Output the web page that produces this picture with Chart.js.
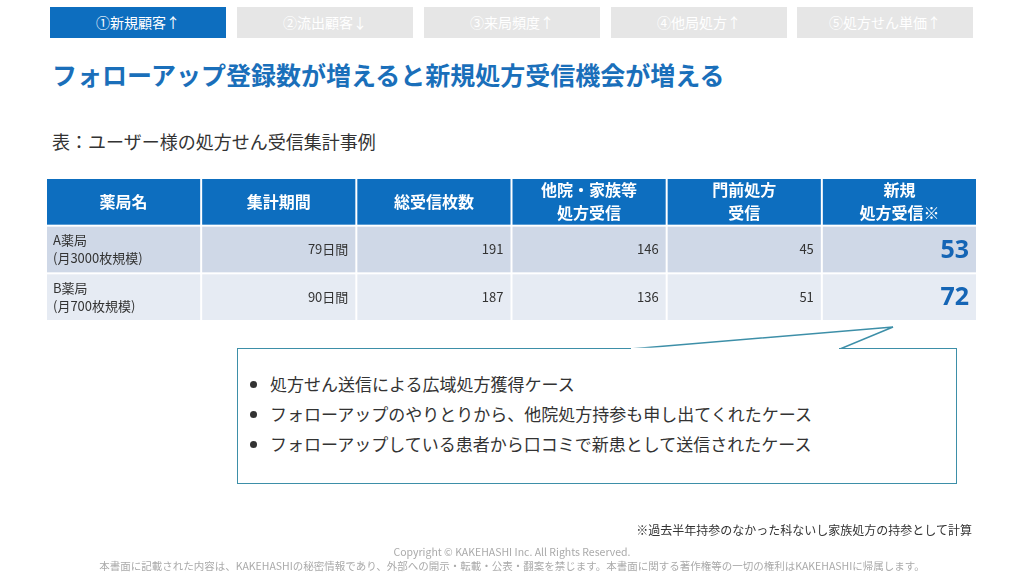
<!DOCTYPE html>
<html><head><meta charset="utf-8">
<script src="https://cdn.jsdelivr.net/npm/chart.js@4"></script>
<style>
body{margin:0;width:1024px;height:576px;background:#fff;font-family:"Noto Sans CJK JP","Noto Sans",sans-serif;position:relative;overflow:hidden;color:#333}
.tab{position:absolute;top:7px;height:31px;width:176px;background:#e6e6e6;color:#fff;font-size:14px;text-align:center;line-height:31px}
.tab.on{background:#0d6ebf}
#title{position:absolute;left:52px;top:56px;font-size:25px;font-weight:bold;color:#1a6fba;letter-spacing:0px}
#sub{position:absolute;left:52px;top:128px;font-size:18px;color:#333}
#wrap{position:absolute;left:46px;top:178px;width:931px;height:143px}
#box{position:absolute;left:237px;top:348px;width:718px;height:134px;border:1.5px solid #3d8fa8;background:#fff}
#box ul{margin:20px 0 0 0;padding-left:32px;font-size:17px;line-height:30px;color:#333}
#note{position:absolute;right:52px;top:521px;font-size:12px;color:#333}
.foot{position:absolute;left:0;width:1024px;text-align:center;font-size:10.5px;color:#aaa}
</style></head><body>
<div class="tab on" style="left:50px">①新規顧客↑</div>
<div class="tab" style="left:237px">②流出顧客↓</div>
<div class="tab" style="left:424px">③来局頻度↑</div>
<div class="tab" style="left:611px">④他局処方↑</div>
<div class="tab" style="left:797px">⑤処方せん単価↑</div>
<div id="title">フォローアップ登録数が増えると新規処方受信機会が増える</div>
<div id="sub">表：ユーザー様の処方せん受信集計事例</div>
<div id="wrap"><canvas id="tbl"></canvas></div>
<svg style="position:absolute;left:0;top:0" width="1024" height="576">
<polygon points="630,349 893,327 840,349" fill="#fff" stroke="#3d8fa8" stroke-width="1.5"/>
</svg>
<div id="box"><ul>
<li>処方せん送信による広域処方獲得ケース</li>
<li>フォローアップのやりとりから、他院処方持参も申し出てくれたケース</li>
<li>フォローアップしている患者から口コミで新患として送信されたケース</li>
</ul></div>
<svg style="position:absolute;left:0;top:0" width="1024" height="576"><line x1="631" y1="349" x2="839" y2="349" stroke="#fff" stroke-width="2.5"/></svg>
<div id="note">※過去半年持参のなかった科ないし家族処方の持参として計算</div>
<div class="foot" style="top:544px">Copyright © KAKEHASHI Inc. All Rights Reserved.</div>
<div class="foot" style="top:558px">本書面に記載された内容は、KAKEHASHIの秘密情報であり、外部への開示・転載・公表・翻案を禁じます。本書面に関する著作権等の一切の権利はKAKEHASHIに帰属します。</div>
<script>
// table data
const headers = ['薬局名', '集計期間', '総受信枚数', '他院・家族等\n処方受信', '門前処方\n受信', '新規\n処方受信※'];
const pharmacies = ['A薬局\n(月3000枚規模)', 'B薬局\n(月700枚規模)'];
const periods = ['79日間', '90日間'];
const totalReceived = [191, 187];
const otherClinic = [146, 136];
const frontClinic = [45, 51];
const newReceived = [53, 72];
const rowLabels = ['header', 'A', 'B'];

const rows = pharmacies.map((p, i) => [p, periods[i], totalReceived[i], otherClinic[i], frontClinic[i], newReceived[i]]);

const tablePlugin = {
    id: 'table',
    afterDraw(chart) {
        const ctx = chart.ctx;
        const xs = chart.scales.x, ys = chart.scales.y;
        const cw = xs.width / headers.length, rh = ys.height / rowLabels.length;
        rowLabels.forEach((r, ri) => {
            const cy = ys.getPixelForValue(ri);
            headers.forEach((h, ci) => {
                const cx = xs.getPixelForValue(ci);
                const x0 = cx - cw / 2 + 1, y0 = cy - rh / 2 + 1;
                ctx.fillStyle = ri === 0 ? '#0d6ebf' : (ri === 1 ? '#cfd8e7' : '#e6ebf3');
                ctx.fillRect(x0, y0, cw - 2, rh - 2);
                ctx.textBaseline = 'middle';
                if (ri === 0) {
                    ctx.fillStyle = '#fff';
                    ctx.font = 'bold 16px "Noto Sans CJK JP"';
                    ctx.textAlign = 'center';
                    const ls = h.split('\n');
                    ls.forEach((l, k) => ctx.fillText(l, cx, cy + (k - (ls.length - 1) / 2) * 23));
                } else {
                    const v = rows[ri - 1][ci];
                    if (ci === 0) {
                        ctx.fillStyle = '#333';
                        ctx.font = '13px "Noto Sans CJK JP"';
                        ctx.textAlign = 'left';
                        String(v).split('\n').forEach((l, k) => ctx.fillText(l, x0 + 6, cy + (k - 0.5) * 18));
                    } else if (ci === headers.length - 1) {
                        ctx.fillStyle = '#1565b5';
                        ctx.font = 'bold 25px "Noto Sans"';
                        ctx.textAlign = 'right';
                        ctx.fillText(v, x0 + cw - 9, cy + 1);
                    } else {
                        ctx.fillStyle = '#333';
                        ctx.font = '13px "Noto Sans CJK JP"';
                        ctx.textAlign = 'right';
                        ctx.fillText(v, x0 + cw - 9, cy);
                    }
                }
            });
        });
    }
};

new Chart(document.getElementById('tbl'), {
    type: 'bar',
    data: { labels: headers, datasets: [{ data: [], yAxisID: 'y' }] },
    options: {
        responsive: true, maintainAspectRatio: false, animation: false,
        layout: { padding: 0 },
        plugins: { legend: { display: false }, tooltip: { enabled: false } },
        scales: {
            x: { type: 'category', labels: headers, offset: true, display: false },
            y: { type: 'category', labels: rowLabels, offset: true, display: false }
        }
    },
    plugins: [tablePlugin]
});
</script>
</body></html>
